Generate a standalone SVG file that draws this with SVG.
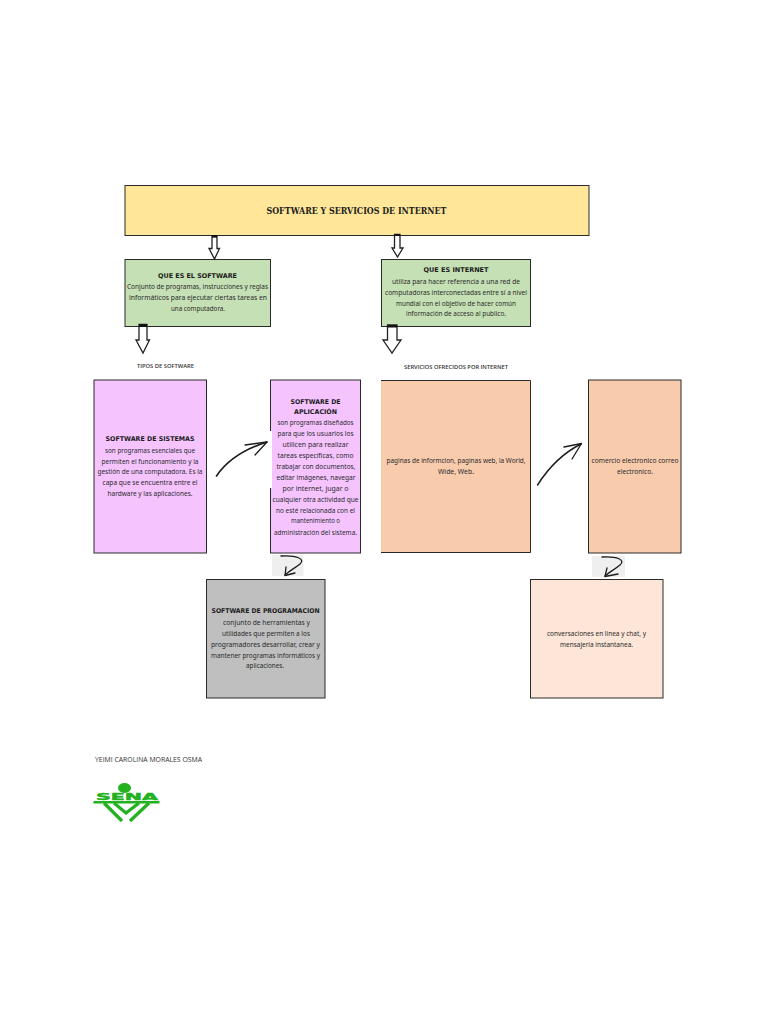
<svg xmlns="http://www.w3.org/2000/svg" width="768" height="1024" viewBox="0 0 768 1024">
<style>
text{font-family:"Noto Sans","Lato",sans-serif;font-size:6.8px;fill:#2a2a2a;text-anchor:middle}
.h{font-family:"DejaVu Sans",sans-serif;font-weight:700;font-size:6.500px;fill:#1c1c1c}
.t{font-family:"DejaVu Serif",serif;font-weight:700;font-size:8.500px;fill:#1c1c1c}
.c{font-family:"Open Sans",sans-serif;font-size:6px;font-weight:600;fill:#333}
.box{stroke:#2a2a2a;stroke-width:1}
.block{fill:#fff;stroke:#222;stroke-width:1.3;stroke-linejoin:miter}
.curve{fill:none;stroke:#1c1c1c;stroke-width:1.3;stroke-linecap:round;stroke-linejoin:round}
.hook{fill:#efefef}
.g{fill:#22b11f}
</style>
<g id="title"><rect class="box" x="125" y="185.500" width="464" height="50" fill="#FFE699"/><text class="t" x="356.500" y="213.500" textLength="180" lengthAdjust="spacingAndGlyphs">SOFTWARE Y SERVICIOS DE INTERNET</text></g>
<g id="que-software"><rect class="box" x="125" y="259.500" width="145.500" height="67" fill="#C5E0B4"/>
<text class="h" x="197.500" y="278" textLength="79" lengthAdjust="spacingAndGlyphs">QUE ES EL SOFTWARE</text>
<text x="197.500" y="289" textLength="141" lengthAdjust="spacingAndGlyphs">Conjunto de programas, instrucciones y reglas</text>
<text x="198" y="300" textLength="138" lengthAdjust="spacingAndGlyphs">informáticos para ejecutar ciertas tareas en</text>
<text x="198" y="311" textLength="54" lengthAdjust="spacingAndGlyphs">una computadora.</text></g>
<g id="que-internet"><rect class="box" x="381.500" y="259.500" width="149" height="67" fill="#C5E0B4"/>
<text class="h" x="456" y="272" textLength="65" lengthAdjust="spacingAndGlyphs">QUE ES INTERNET</text>
<text x="456" y="284" textLength="128" lengthAdjust="spacingAndGlyphs">utiliza para hacer referencia a una red de</text>
<text x="456" y="295" textLength="142" lengthAdjust="spacingAndGlyphs">computadoras interconectadas entre sí a nivel</text>
<text x="456" y="305.500" textLength="120" lengthAdjust="spacingAndGlyphs">mundial con el objetivo de hacer común</text>
<text x="456" y="316" textLength="100" lengthAdjust="spacingAndGlyphs">información de acceso al publico.</text></g>
<g id="tipos"><text class="c" x="165.500" y="368" textLength="57" lengthAdjust="spacingAndGlyphs">TIPOS DE SOFTWARE</text></g>
<g id="servicios"><text class="c" x="456" y="369" textLength="104" lengthAdjust="spacingAndGlyphs">SERVICIOS OFRECIDOS POR INTERNET</text></g>
<g id="sistemas"><rect class="box" x="94" y="380" width="112.500" height="173" fill="#F5C4FF"/>
<text class="h" x="150" y="440.500" textLength="89" lengthAdjust="spacingAndGlyphs">SOFTWARE DE SISTEMAS</text>
<text x="150" y="452.500" textLength="90" lengthAdjust="spacingAndGlyphs">son programas esenciales que</text>
<text x="150" y="463.500" textLength="97" lengthAdjust="spacingAndGlyphs">permiten el funcionamiento y la</text>
<text x="150" y="474" textLength="105" lengthAdjust="spacingAndGlyphs">gestión de una computadora. Es la</text>
<text x="150" y="485" textLength="95" lengthAdjust="spacingAndGlyphs">capa que se encuentra entre el</text>
<text x="150" y="496" textLength="85" lengthAdjust="spacingAndGlyphs">hardware y las aplicaciones.</text></g>
<g id="aplicacion"><rect class="box" x="270.500" y="380" width="90" height="173" fill="#F5C4FF"/><rect x="268" y="431" width="4" height="57" fill="#fff"/>
<text class="h" x="315.500" y="403.500" textLength="50" lengthAdjust="spacingAndGlyphs">SOFTWARE DE</text>
<text class="h" x="315.500" y="414" textLength="43" lengthAdjust="spacingAndGlyphs">APLICACIÓN</text>
<text x="315.500" y="425" textLength="76" lengthAdjust="spacingAndGlyphs">son programas diseñados</text>
<text x="315.500" y="436" textLength="76" lengthAdjust="spacingAndGlyphs">para que los usuarios los</text>
<text x="315.500" y="447" textLength="66" lengthAdjust="spacingAndGlyphs">utilicen para realizar</text>
<text x="315.500" y="458" textLength="76" lengthAdjust="spacingAndGlyphs">tareas específicas, como</text>
<text x="316" y="469" textLength="79" lengthAdjust="spacingAndGlyphs">trabajar con documentos,</text>
<text x="316" y="480" textLength="79" lengthAdjust="spacingAndGlyphs">editar imágenes, navegar</text>
<text x="315.500" y="491" textLength="66" lengthAdjust="spacingAndGlyphs">por internet, jugar o</text>
<text x="315.500" y="501.500" textLength="86" lengthAdjust="spacingAndGlyphs">cualquier otra actividad que</text>
<text x="315.500" y="512.500" textLength="79" lengthAdjust="spacingAndGlyphs">no esté relacionada con el</text>
<text x="315.500" y="523" textLength="49" lengthAdjust="spacingAndGlyphs">mantenimiento o</text>
<text x="315.500" y="534.500" textLength="83" lengthAdjust="spacingAndGlyphs">administración del sistema.</text></g>
<g id="paginas"><rect x="381" y="380" width="150" height="173" fill="#F8CBAD"/><path class="box" fill="none" d="M381 380.500H530.500V552.500H381"/>
<text x="456" y="463" textLength="139" lengthAdjust="spacingAndGlyphs">paginas de informcion, paginas web, la World,</text>
<text x="456" y="474" textLength="36" lengthAdjust="spacingAndGlyphs">Wide, Web.</text></g>
<g id="comercio"><rect class="box" x="588.500" y="380" width="92.500" height="173" fill="#F8CBAD"/>
<text x="635" y="463" textLength="87" lengthAdjust="spacingAndGlyphs">comercio electronico correo</text>
<text x="635" y="474" textLength="36" lengthAdjust="spacingAndGlyphs">electronico.</text></g>
<g id="programacion"><rect class="box" x="206.500" y="579.500" width="118.500" height="118.500" fill="#BFBFBF"/>
<text class="h" x="265.500" y="613" textLength="108" lengthAdjust="spacingAndGlyphs">SOFTWARE DE PROGRAMACION</text>
<text x="266.500" y="625" textLength="87" lengthAdjust="spacingAndGlyphs">conjunto de herramientas y</text>
<text x="266" y="635.500" textLength="88" lengthAdjust="spacingAndGlyphs">utilidades que permiten a los</text>
<text x="265.500" y="646.500" textLength="109" lengthAdjust="spacingAndGlyphs">programadores desarrollar, crear y</text>
<text x="265.500" y="657.500" textLength="109" lengthAdjust="spacingAndGlyphs">mantener programas informáticos y</text>
<text x="265" y="668" textLength="38" lengthAdjust="spacingAndGlyphs">aplicaciones.</text></g>
<g id="conversaciones"><rect class="box" x="530.500" y="579.500" width="132.500" height="118.500" fill="#FDE5D8"/>
<text x="596.500" y="635.500" textLength="99" lengthAdjust="spacingAndGlyphs">conversaciones en linea y chat, y</text>
<text x="596.500" y="647" textLength="73" lengthAdjust="spacingAndGlyphs">mensajeria instantanea.</text></g>
<g id="autor"><text class="c" x="148.500" y="762" textLength="107" lengthAdjust="spacingAndGlyphs" style="font-size:7.500px;font-weight:400">YEIMI CAROLINA MORALES OSMA</text></g>
<g id="logo">
<ellipse class="g" cx="124.500" cy="788" rx="6.500" ry="5"/>
<text x="127" y="800.300" textLength="62" lengthAdjust="spacingAndGlyphs" style="font-family:'DejaVu Sans',sans-serif;font-weight:700;font-size:8px;fill:#22b11f;stroke:#22b11f;stroke-width:.4">SENA</text>
<rect class="g" x="93.500" y="801" width="66" height="2.500"/>
<path d="M104 803L122 821M114 803L126 813L139 803M149 803L130 821" fill="none" stroke="#22b11f" stroke-width="3.200"/>
</g>
<g id="connectors">
<path class="block" d="M212 236.500H217V248.500H219.500L214.500 259L209 248.500H212Z"/>
<path class="block" d="M394.500 234.500H400V248H403L397.500 257L392 248H394.500Z"/>
<path class="block" d="M139 324.500H147V340H149.500L143 353L136 340H139Z"/>
<path class="block" d="M387.500 325H397V340H401L392 353L383 340H387.500Z"/>
<rect x="212" y="235" width="5" height="2.500" fill="#111"/><rect x="394.500" y="234" width="5.500" height="2" fill="#111"/>
<rect x="139" y="324" width="8" height="3" fill="#111"/><rect x="387.500" y="325" width="9.500" height="2.500" fill="#111"/>
<path class="curve" style="stroke-width:1.600" d="M216.500 476C228 459 245 449 267 442"/>
<path class="curve" d="M245 445L267 442L255 455"/>
<path class="curve" style="stroke-width:1.400" d="M537.500 485C549 467 563 453 581 444"/>
<path class="curve" d="M564 447L581.500 443.500L572 459"/>
<rect class="hook" x="272" y="555" width="31.500" height="21"/>
<path class="curve" d="M281 556C296 555 306 559 300 564C295 568 289 571 285 575"/>
<path class="curve" d="M286 567L285 575.500L295 573"/>
<rect class="hook" x="592" y="556" width="33" height="21"/>
<path class="curve" d="M602 557C617 556 626 560 620 565C614 570 609 572 605 576"/>
<path class="curve" d="M607 568L605 576.500L618 574"/>
</g>
</svg>
